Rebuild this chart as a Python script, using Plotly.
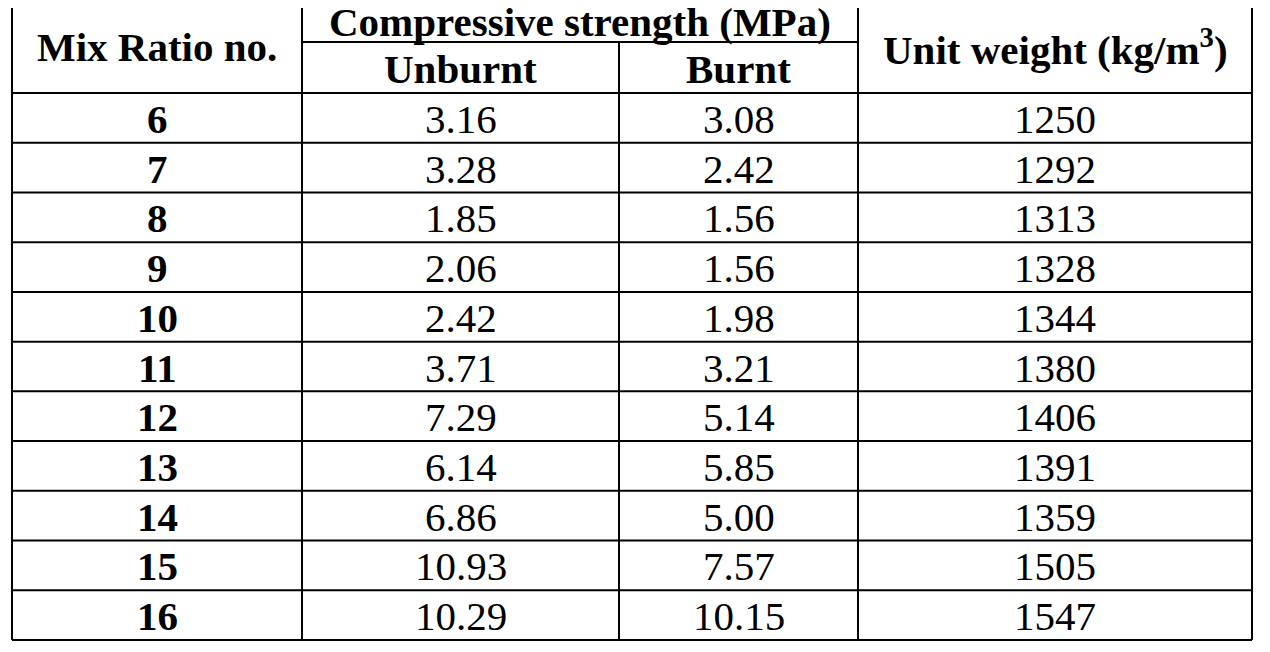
import plotly.graph_objects as go

mix_no = ["6", "7", "8", "9", "10", "11", "12", "13", "14", "15", "16"]
unburnt = ["3.16", "3.28", "1.85", "2.06", "2.42", "3.71", "7.29", "6.14", "6.86", "10.93", "10.29"]
burnt = ["3.08", "2.42", "1.56", "1.56", "1.98", "3.21", "5.14", "5.85", "5.00", "7.57", "10.15"]
unit_weight = ["1250", "1292", "1313", "1328", "1344", "1380", "1406", "1391", "1359", "1505", "1547"]

# table geometry in pixel units of the axes
col_x = [12, 302, 619, 858, 1252]
top, mid, head_bot = 1, 42, 93
row_h = (640 - head_bot) / len(mix_no)

fig = go.Figure()
line = dict(color="black", width=2)

def hline(x0, x1, y):
    fig.add_shape(type="line", x0=x0, x1=x1, y0=y, y1=y, line=line)

def vline(x, y0, y1):
    fig.add_shape(type="line", x0=x, x1=x, y0=y0, y1=y1, line=line)

hline(col_x[0], col_x[-1], top)
hline(col_x[1], col_x[3], mid)
for i in range(len(mix_no) + 1):
    hline(col_x[0], col_x[-1], head_bot + i * row_h)
bottom = head_bot + len(mix_no) * row_h
for i, x in enumerate(col_x):
    if i == 2:
        vline(x, mid, bottom)
    else:
        vline(x, top, bottom)

font = dict(family="Liberation Serif", size=41, color="black")
bold = dict(family="Liberation Serif", size=41, color="black")

def text(x, y, s, f):
    fig.add_annotation(x=x, y=y, text=s, showarrow=False, font=f,
                       xanchor="center", yanchor="middle")

cx = [(col_x[i] + col_x[i + 1]) / 2 for i in range(4)]
text(cx[0], (top + head_bot) / 2, "<b>Mix Ratio no.</b>", bold)
text((col_x[1] + col_x[3]) / 2, (top + mid) / 2, "<b>Compressive strength (MPa)</b>", bold)
text(cx[1], (mid + head_bot) / 2 + 1, "<b>Unburnt</b>", bold)
text(cx[2], (mid + head_bot) / 2 + 1, "<b>Burnt</b>", bold)
text(cx[3], (top + head_bot) / 2, "<b>Unit weight (kg/m<sup>3</sup>)</b>", bold)

for i in range(len(mix_no)):
    y = head_bot + (i + 0.5) * row_h + 1
    text(cx[0], y, "<b>" + mix_no[i] + "</b>", font)
    text(cx[1], y, unburnt[i], font)
    text(cx[2], y, burnt[i], font)
    text(cx[3], y, unit_weight[i], font)

# the page body adds an 8px offset, so the axes start at 8
fig.update_xaxes(range=[8, 1278], visible=False)
fig.update_yaxes(range=[660, 8], visible=False)
fig.update_layout(width=1270, height=652, margin=dict(l=0, r=0, t=0, b=0),
                  plot_bgcolor="white", paper_bgcolor="white", showlegend=False)
fig.write_html("out.html")
